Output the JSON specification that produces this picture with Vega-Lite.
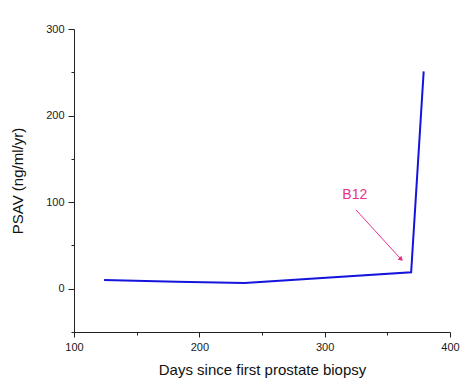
{
  "$schema": "https://vega.github.io/schema/vega-lite/v6.json",
  "autosize": "none",
  "width": 376,
  "height": 303,
  "padding": {"left": 74, "top": 29, "right": 24, "bottom": 58},
  "config": {
    "view": {"stroke": null},
    "font": "Liberation Sans",
    "axis": {
      "grid": false,
      "domainColor": "#222",
      "tickColor": "#222",
      "labelColor": "#1a1a1a",
      "titleColor": "#111",
      "labelFont": "Liberation Sans",
      "titleFont": "Liberation Sans",
      "labelFontSize": 11,
      "titleFontSize": 15,
      "titleFontWeight": "normal"
    }
  },
  "datasets": {
    "series": [
      {"day": 124, "psav": 10},
      {"day": 182, "psav": 8},
      {"day": 236, "psav": 6.5},
      {"day": 369, "psav": 19},
      {"day": 379, "psav": 251}
    ],
    "note": [
      {"x": 325, "y": 91, "x2": 361, "y2": 34, "label": "B12", "tx": 324, "ty": 108}
    ]
  },
  "layer": [
    {
      "data": {"name": "series"},
      "mark": {"type": "line", "color": "#1414dc", "strokeWidth": 2},
      "encoding": {
        "x": {
          "field": "day", "type": "quantitative",
          "scale": {"domain": [100, 400], "nice": false, "zero": false},
          "axis": {
            "title": "Days since first prostate biopsy",
            "values": [100, 150, 200, 250, 300, 350, 400],
            "labelExpr": "datum.value % 100 === 0 ? datum.label : ''",
            "tickSize": {"condition": {"test": "datum.value % 100 === 0", "value": 5}, "value": 3},
            "labelPadding": 4,
            "titlePadding": 10,
            "labelFlush": false
          }
        },
        "y": {
          "field": "psav", "type": "quantitative",
          "scale": {"domain": [-50, 300], "nice": false, "zero": false},
          "axis": {
            "title": "PSAV (ng/ml/yr)",
            "values": [-50, 0, 50, 100, 150, 200, 250, 300],
            "labelExpr": "datum.value % 100 === 0 ? datum.label : ''",
            "tickSize": {"condition": {"test": "datum.value % 100 === 0", "value": 6}, "value": 3},
            "labelPadding": 4,
            "titlePadding": 20,
            "labelFlush": false
          }
        }
      }
    },
    {
      "data": {"name": "note"},
      "mark": {"type": "rule", "color": "#e8308a", "strokeWidth": 1},
      "encoding": {
        "x": {"field": "x", "type": "quantitative"},
        "y": {"field": "y", "type": "quantitative"},
        "x2": {"field": "x2"},
        "y2": {"field": "y2"}
      }
    },
    {
      "data": {"name": "note"},
      "mark": {"type": "point", "shape": "triangle-up", "filled": true, "color": "#e8308a", "size": 30, "angle": 137, "opacity": 1},
      "encoding": {
        "x": {"field": "x2", "type": "quantitative"},
        "y": {"field": "y2", "type": "quantitative"}
      }
    },
    {
      "data": {"name": "note"},
      "mark": {"type": "text", "color": "#e8308a", "fontSize": 14, "font": "Liberation Sans"},
      "encoding": {
        "x": {"field": "tx", "type": "quantitative"},
        "y": {"field": "ty", "type": "quantitative"},
        "text": {"field": "label"}
      }
    }
  ]
}
